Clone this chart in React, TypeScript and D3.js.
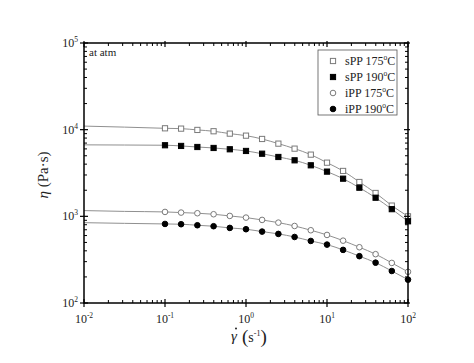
import React from 'react';
import * as d3 from 'd3';

// shear rates (1/s) of the measured points
const rates = [0.1, 0.158, 0.251, 0.398, 0.631, 1, 1.58, 2.51, 3.98, 6.31, 10, 15.8, 25.1, 39.8, 63.1, 100];

// viscosity (Pa·s)
const sPP175 = [10370, 10280, 9930, 9590, 9000, 8530, 7810, 6900, 6040, 5150, 4160, 3340, 2490, 1860, 1330, 1000];
const sPP190 = [6610, 6490, 6310, 6150, 5940, 5680, 5280, 4840, 4430, 3880, 3280, 2720, 2140, 1640, 1210, 877];
const iPP175 = [1124, 1105, 1086, 1057, 1011, 967, 909, 846, 774, 691, 610, 524, 440, 366, 290, 229];
const iPP190 = [817, 811, 789, 769, 735, 710, 667, 627, 578, 520, 472, 410, 347, 292, 234, 186];

// fitted curve continues to the left of the data
const fitHeadRates = [0.01, 0.0316];
const sPP175Head = [11000, 10700];
const sPP190Head = [6680, 6650];
const iPP175Head = [1165, 1140];
const iPP190Head = [845, 830];

const xExponents = [-2, -1, 0, 1, 2];
const yExponents = [2, 3, 4, 5];

const seriesNames = ['sPP 175', 'sPP 190', 'iPP 175', 'iPP 190'];

const W = 474;
const H = 363;
const margin = { left: 84, right: 66, top: 43, bottom: 60 };

type Series = { name: string; values: number[]; head: number[]; shape: 'square' | 'circle'; filled: boolean };

const series: Series[] = [
  { name: seriesNames[0], values: sPP175, head: sPP175Head, shape: 'square', filled: false },
  { name: seriesNames[1], values: sPP190, head: sPP190Head, shape: 'square', filled: true },
  { name: seriesNames[2], values: iPP175, head: iPP175Head, shape: 'circle', filled: false },
  { name: seriesNames[3], values: iPP190, head: iPP190Head, shape: 'circle', filled: true },
];

const FONT = '"Liberation Serif", "Times New Roman", serif';

function Marker({ shape, filled, cx, cy }: { shape: string; filled: boolean; cx: number; cy: number }) {
  const fill = filled ? '#000' : '#fff';
  const stroke = filled ? '#000' : '#7a7a7a';
  if (shape === 'square') {
    return <rect x={cx - 2.6} y={cy - 2.6} width={5.2} height={5.2} fill={fill} stroke={stroke} strokeWidth={1} />;
  }
  return <circle cx={cx} cy={cy} r={2.8} fill={fill} stroke={stroke} strokeWidth={1} />;
}

export default function App() {
  const x = d3.scaleLog().domain([0.01, 100]).range([margin.left, W - margin.right]);
  const y = d3.scaleLog().domain([100, 100000]).range([H - margin.bottom, margin.top]);

  const x0 = margin.left, x1 = W - margin.right;
  const y0 = H - margin.bottom, y1 = margin.top;

  const isPow = (v: number) => Math.abs(Math.log10(v) - Math.round(Math.log10(v))) < 1e-9;
  const xMinor = x.ticks().filter(v => !isPow(v));
  const yMinor = y.ticks().filter(v => !isPow(v));

  const line = d3.line<[number, number]>()
    .x(d => x(d[0]))
    .y(d => y(d[1]))
    .curve(d3.curveMonotoneX);

  return (
    <div style={{ position: 'fixed', left: 0, top: 0 }}>
      <svg width={W} height={H} style={{ display: 'block', background: '#fff' }} fontFamily={FONT}>
        {/* fit curves */}
        {series.map(s => {
          const pts: [number, number][] = [
            ...fitHeadRates.map((r, i) => [r, s.head[i]] as [number, number]),
            ...rates.map((r, i) => [r, s.values[i]] as [number, number]),
          ];
          return <path key={s.name + 'fit'} d={line(pts) || ''} fill="none" stroke="#909090" strokeWidth={1} />;
        })}

        {/* markers */}
        {series.map(s => (
          <g key={s.name}>
            {rates.map((r, i) => (
              <Marker key={i} shape={s.shape} filled={s.filled} cx={x(r)} cy={y(s.values[i])} />
            ))}
          </g>
        ))}

        {/* frame */}
        <rect x={x0} y={y1} width={x1 - x0} height={y0 - y1} fill="none" stroke="#000" strokeWidth={1.5} />

        {/* x ticks, bottom & top */}
        {xExponents.map(e => {
          const px = x(Math.pow(10, e));
          return (
            <g key={'xm' + e}>
              <line x1={px} x2={px} y1={y0 + 4} y2={y0 - 4} stroke="#000" strokeWidth={1.2} />
              <line x1={px} x2={px} y1={y1 - 2} y2={y1 + 4} stroke="#000" strokeWidth={1.2} />
              <text x={px} y={y0 + 20} textAnchor="middle" fontSize={12} fill="#222">
                10<tspan dy={-5} fontSize={7.5}>{e}</tspan>
              </text>
            </g>
          );
        })}
        {xMinor.map((v, i) => (
          <g key={'xn' + i}>
            <line x1={x(v)} x2={x(v)} y1={y0} y2={y0 - 3} stroke="#000" strokeWidth={1} />
            <line x1={x(v)} x2={x(v)} y1={y1} y2={y1 + 3} stroke="#000" strokeWidth={1} />
          </g>
        ))}

        {/* y ticks, left & right */}
        {yExponents.map(e => {
          const py = y(Math.pow(10, e));
          return (
            <g key={'ym' + e}>
              <line x1={x0 - 4} x2={x0 + 4} y1={py} y2={py} stroke="#000" strokeWidth={1.2} />
              <line x1={x1 - 4} x2={x1 + 2} y1={py} y2={py} stroke="#000" strokeWidth={1.2} />
              <text x={x0 - 6} y={py + 4} textAnchor="end" fontSize={12} fill="#222">
                10<tspan dy={-5} fontSize={7.5}>{e}</tspan>
              </text>
            </g>
          );
        })}
        {yMinor.map((v, i) => (
          <g key={'yn' + i}>
            <line x1={x0} x2={x0 + 3} y1={y(v)} y2={y(v)} stroke="#000" strokeWidth={1} />
            <line x1={x1} x2={x1 - 3} y1={y(v)} y2={y(v)} stroke="#000" strokeWidth={1} />
          </g>
        ))}

        {/* annotation */}
        <text x={x0 + 5} y={y1 + 13} fontSize={11} fill="#222">at atm</text>

        {/* legend */}
        <g>
          <rect x={318} y={50} width={79} height={65} fill="#fff" stroke="#555" strokeWidth={0.8} />
          {series.map((s, i) => {
            const ly = 61 + i * 16;
            return (
              <g key={'lg' + i}>
                <Marker shape={s.shape} filled={s.filled} cx={333} cy={ly} />
                <text x={345} y={ly + 4} fontSize={12} fill="#222">
                  {s.name}<tspan dy={-5} fontSize={7.5}>o</tspan><tspan dy={5}>C</tspan>
                </text>
              </g>
            );
          })}
        </g>

        {/* axis titles */}
        <text transform="translate(48,175) rotate(-90)" textAnchor="middle" fontSize={15} fill="#222">
          <tspan fontStyle="italic">η</tspan> (Pa·s)
        </text>
        <text x={231} y={341} fontSize={15} fill="#222" fontStyle="italic">γ</text>
        <circle cx={236} cy={328.5} r={1} fill="#222" />
        <text x={242} y={343} fontSize={15} fill="#222">
          <tspan fontSize={19}>(</tspan>
          <tspan fontSize={14} dy={-1}>s</tspan>
          <tspan fontSize={8} dy={-6}>-1</tspan>
          <tspan fontSize={19} dy={7}>)</tspan>
        </text>
      </svg>
    </div>
  );
}
